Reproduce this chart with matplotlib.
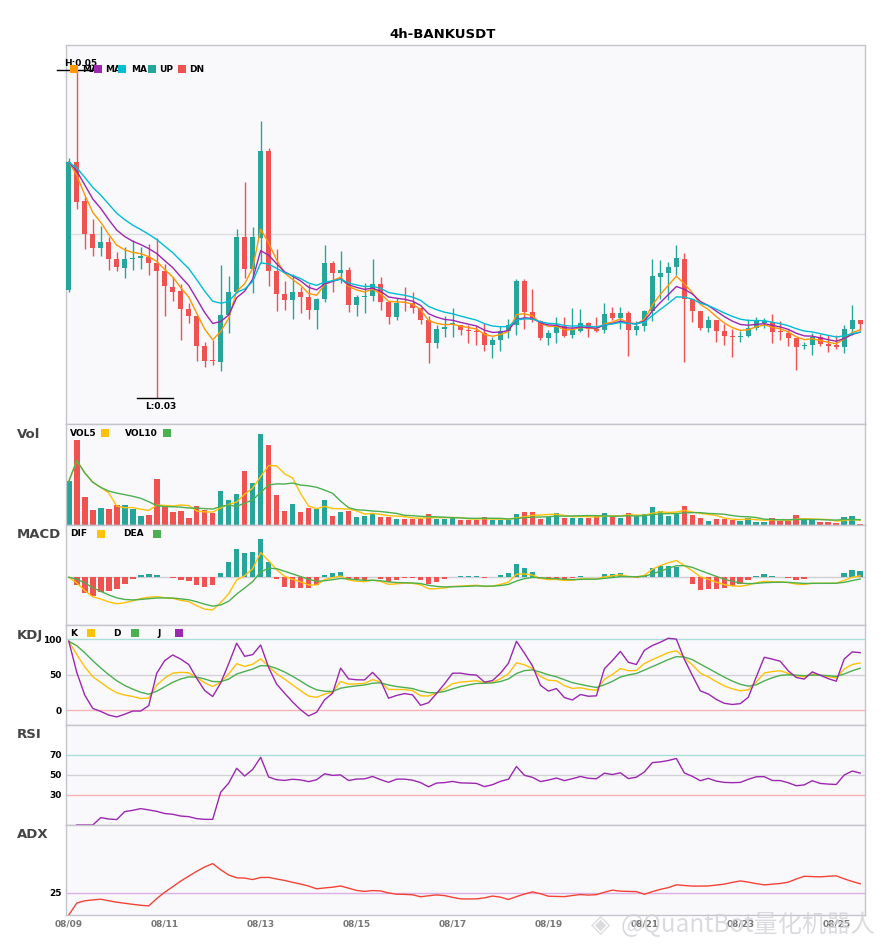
import numpy as np
import pandas as pd
import matplotlib
matplotlib.use('Agg')
import matplotlib.pyplot as plt
from matplotlib.patches import Rectangle
from matplotlib.transforms import Bbox, TransformedBbox

# 4h candles, prices in 1e-4 USDT
opens = [365.9, 443.8, 420.2, 400.0, 391.7, 395.2, 384.8, 379.5, 385.0, 385.6,
         386.0, 382.2, 377.3, 367.7, 365.3, 354.3, 350.0, 331.7, 322.8, 322.1,
         350.6, 364.7, 398.2, 378.9, 397.8, 450.7, 377.5, 363.4, 360.0, 364.7,
         361.6, 353.9, 360.4, 382.4, 376.3, 378.1, 356.9, 361.9, 362.2, 369.5,
         358.7, 349.4, 358.7, 358.1, 355.1, 347.6, 333.7, 342.3, 344.3, 344.5,
         341.7, 341.1, 339.5, 332.3, 335.4, 341.1, 344.5, 371.4, 352.5, 347.2,
         336.6, 339.7, 343.9, 338.4, 340.9, 345.8, 342.1, 341.5, 351.9, 348.8,
         351.9, 341.5, 343.9, 353.1, 373.8, 376.3, 380.1, 384.8, 360.6, 353.1,
         342.9, 347.6, 341.1, 337.8, 337.4, 337.8, 342.7, 345.8, 346.4, 340.9,
         339.7, 336.6, 331.5, 332.3, 337.2, 332.9, 332.5, 331.3, 342.1, 347.6]
highs = [446.2, 500.1, 422.4, 409.2, 404.9, 398.4, 388.9, 392.3, 396.4, 392.3,
         393.8, 397.6, 381.7, 374.0, 369.4, 357.8, 350.5, 334.2, 335.4, 381.1,
         374.4, 403.1, 431.9, 404.3, 469.0, 452.7, 390.9, 371.4, 375.6, 367.9,
         369.7, 361.0, 393.3, 383.6, 389.7, 380.1, 362.8, 370.2, 384.8, 373.8,
         358.7, 361.2, 367.7, 364.7, 355.1, 350.2, 344.5, 350.2, 354.9, 344.5,
         344.5, 343.9, 345.6, 337.2, 343.9, 348.2, 372.6, 372.6, 366.5, 347.6,
         341.5, 349.4, 349.4, 354.9, 354.3, 346.4, 349.4, 357.9, 355.5, 355.5,
         353.1, 347.0, 353.7, 384.8, 384.2, 383.0, 393.3, 388.5, 360.6, 353.1,
         350.0, 347.6, 345.1, 342.1, 340.9, 348.0, 349.4, 348.8, 351.2, 347.0,
         341.5, 336.6, 334.2, 339.7, 339.0, 338.4, 338.4, 344.5, 356.7, 347.6]
lows = [364.8, 415.3, 391.1, 386.8, 386.6, 378.0, 377.6, 373.4, 378.0, 378.5,
        375.0, 300.0, 350.0, 359.4, 335.4, 345.6, 322.8, 319.1, 320.1, 316.7,
        339.8, 364.2, 373.0, 364.2, 382.4, 368.5, 353.1, 353.7, 348.2, 352.0,
        348.2, 342.1, 358.4, 364.7, 370.0, 352.5, 350.0, 352.0, 359.2, 353.7,
        345.3, 347.6, 353.1, 351.9, 345.3, 321.5, 330.7, 337.4, 337.4, 338.6,
        333.6, 332.3, 328.9, 324.6, 328.9, 336.6, 338.4, 342.1, 346.2, 335.4,
        332.3, 333.6, 337.2, 336.6, 340.3, 337.2, 340.3, 339.7, 347.6, 342.1,
        325.6, 338.4, 340.9, 347.0, 360.4, 359.8, 375.0, 322.1, 346.5, 341.5,
        340.4, 334.3, 332.3, 325.2, 334.3, 337.4, 341.5, 342.7, 333.7, 335.4,
        331.7, 317.3, 330.1, 326.4, 331.9, 328.2, 330.1, 327.6, 338.4, 341.5]
closes = [443.8, 419.7, 400.2, 391.7, 395.2, 384.9, 380.1, 384.8, 385.6, 386.6,
          382.5, 377.7, 368.5, 364.8, 354.3, 350.2, 331.9, 322.8, 322.4, 350.6,
          364.7, 398.2, 378.9, 398.2, 450.7, 377.5, 363.6, 360.0, 364.7, 361.6,
          353.9, 360.4, 382.4, 376.3, 378.1, 356.9, 361.6, 362.2, 369.5, 358.7,
          349.4, 358.1, 358.1, 354.9, 347.6, 333.7, 342.1, 343.1, 345.6, 341.7,
          341.1, 340.3, 332.3, 335.4, 340.9, 344.5, 371.4, 352.5, 347.6, 336.6,
          339.7, 343.9, 337.8, 341.5, 345.8, 342.1, 341.1, 351.2, 348.8, 351.9,
          341.5, 343.9, 353.1, 374.4, 376.3, 379.9, 385.4, 360.6, 353.3, 342.9,
          347.6, 341.1, 338.0, 337.4, 337.8, 342.7, 346.8, 347.0, 340.4, 340.3,
          336.6, 331.3, 332.3, 337.2, 332.9, 331.9, 331.3, 342.1, 347.6, 345.1]
volumes = [435, 845, 275, 145, 170, 155, 195, 195, 155, 85,
           95, 455, 185, 125, 135, 65, 185, 145, 115, 335,
           245, 305, 535, 415, 905, 795, 295, 135, 205, 133,
           173, 163, 253, 93, 133, 143, 83, 93, 123, 83,
           83, 63, 63, 63, 63, 113, 63, 63, 73, 53,
           53, 53, 83, 53, 53, 53, 113, 133, 133, 63,
           83, 123, 73, 73, 73, 73, 103, 123, 83, 73,
           123, 93, 113, 183, 143, 93, 113, 193, 103, 73,
           43, 63, 63, 53, 43, 73, 33, 33, 73, 43,
           43, 103, 53, 53, 33, 33, 23, 83, 93, 7]
date_labels = ['08/09', '08/11', '08/13', '08/15', '08/17', '08/19', '08/21', '08/23', '08/25']
label_step = 12  # 2 days of 4h candles

UP = '#26a69a'
DN = '#ef5350'
C_MA1, C_MA2, C_MA3 = '#ff9800', '#9c27b0', '#00bcd4'
C_YEL, C_GRN = '#ffc107', '#4caf50'
BG = '#f9f9fc'
SPINE = '#c4c4cc'

df = pd.DataFrame({'o': opens, 'h': highs, 'l': lows, 'c': closes}) / 10000.0
df['v'] = volumes
x = np.arange(len(df))
up = df['c'] >= df['o']
colors = np.where(up, UP, DN)

# indicators
ma1 = df['c'].ewm(span=5, adjust=False).mean()
ma2 = df['c'].ewm(span=8, adjust=False).mean()
ma3 = df['c'].ewm(span=13, adjust=False).mean()
vol5 = df['v'].rolling(5, min_periods=1).mean()
vol10 = df['v'].rolling(10, min_periods=1).mean()

dif = df['c'].ewm(span=6, adjust=False).mean() - df['c'].ewm(span=13, adjust=False).mean()
dea = dif.ewm(span=5, adjust=False).mean()
hist = 2 * (dif - dea)

low9 = df['l'].rolling(9, min_periods=1).min()
high9 = df['h'].rolling(9, min_periods=1).max()
rsv = (df['c'] - low9) / (high9 - low9) * 100
k = rsv.ewm(com=2, adjust=False).mean()
d = k.ewm(com=2, adjust=False).mean()
j = 3 * k - 2 * d

delta = df['c'].diff()
gain = delta.clip(lower=0).ewm(alpha=1 / 14, adjust=True).mean()
loss = (-delta.clip(upper=0)).ewm(alpha=1 / 14, adjust=True).mean()
rsi = 100 * gain / (gain + loss)

upmove = df['h'].diff()
downmove = -df['l'].diff()
pdm = pd.Series(np.where((upmove > downmove) & (upmove > 0), upmove, 0.0))
mdm = pd.Series(np.where((downmove > upmove) & (downmove > 0), downmove, 0.0))
prev_c = df['c'].shift()
tr = pd.concat([df['h'] - df['l'], (df['h'] - prev_c).abs(), (df['l'] - prev_c).abs()], axis=1).max(axis=1)
tr_s = tr.ewm(span=14, adjust=False).mean()
pdi = 100 * pdm.ewm(span=14, adjust=False).mean() / tr_s
mdi = 100 * mdm.ewm(span=14, adjust=False).mean() / tr_s
dx = (100 * (pdi - mdi).abs() / (pdi + mdi)).fillna(0)
adx = dx.ewm(span=14, adjust=False).mean()

# layout in pixels
W, H = 885, 950
def fx(px):
    return px / W
def fy(py):
    return 1 - py / H

fig = plt.figure(figsize=(W / 100, H / 100), dpi=100)
fig.patch.set_facecolor('white')
L_PX, R_PX = 66, 865
bounds = [(45, 424), (424, 525), (525, 625), (625, 725), (725, 825), (825, 915)]
axes = []
for top, bot in bounds:
    a = fig.add_axes([fx(L_PX), fy(bot), fx(R_PX) - fx(L_PX), (bot - top) / H])
    a.set_facecolor(BG)
    a.set_xlim(-0.35, len(df) - 0.4)
    for s in a.spines.values():
        s.set_color(SPINE)
        s.set_linewidth(1)
    a.tick_params(axis='both', length=0, labelsize=6.5, pad=3)
    a.set_xticks([])
    a.set_yticks([])
    axes.append(a)
ax, axv, axm, axk, axr, axa = axes

# main candles
body_lo = np.minimum(df['o'], df['c'])
body_h = np.maximum((df['c'] - df['o']).abs(), (df['h'].max() - df['l'].min()) * 0.003)
ax.vlines(x, df['l'], df['h'], colors=colors, linewidth=1.0, zorder=2)
ax.bar(x, body_h, bottom=body_lo, width=0.66, color=colors, zorder=3)
ax.plot(x, ma1, color=C_MA1, lw=1.0, zorder=4)
ax.plot(x, ma2, color=C_MA2, lw=1.0, zorder=4)
ax.plot(x, ma3, color=C_MA3, lw=1.0, zorder=4)
pmin, pmax = df['l'].min(), df['h'].max()
rng = pmax - pmin
ax.set_ylim(pmin - 0.079 * rng, pmax + 0.076 * rng)
ax.axhline(round((pmin + pmax) / 2, 2), color='#dcdcdf', lw=1, zorder=1)

ih, il = int(df['h'].idxmax()), int(df['l'].idxmin())
ax.plot([ih - 2.5, ih + 1.8], [pmax, pmax], color='black', lw=1, clip_on=False, zorder=6)
ax.text(ih + 0.5, pmax + 0.005 * rng, 'H:%.2f' % pmax, ha='center', va='bottom',
        fontsize=6.5, fontweight='bold', zorder=7, clip_on=False)
ax.plot([il - 2.5, il + 2.0], [pmin, pmin], color='black', lw=1, clip_on=False, zorder=6)
ax.text(il + 0.5, pmin - 0.012 * rng, 'L:%.2f' % pmin, ha='center', va='top',
        fontsize=6.5, fontweight='bold', zorder=7)

# volume
axv.bar(x, df['v'], width=0.7, color=colors, zorder=2)
axv.plot(x, vol5, color=C_YEL, lw=1.0, zorder=3)
axv.plot(x, vol10, color=C_GRN, lw=1.0, zorder=3)
axv.set_ylim(0, df['v'].max() * 1.11)

# macd
axm.axhline(0, color='#d0d0d4', lw=1, zorder=1)
axm.bar(x, hist, width=0.7, color=np.where(hist >= 0, UP, DN), zorder=2)
axm.plot(x, dif, color=C_YEL, lw=1.0, zorder=3)
axm.plot(x, dea, color=C_GRN, lw=1.0, zorder=3)
lo = min(dif.min(), dea.min(), hist.min())
hi = max(dif.max(), dea.max(), hist.max())
axm.set_ylim(lo - 0.21 * (hi - lo), hi + 0.19 * (hi - lo))

# kdj
for lvl, col in [(100, '#a9ddd7'), (50, '#d2d2d6'), (0, '#f6b3b3')]:
    axk.axhline(lvl, color=col, lw=1, zorder=1)
axk.plot(x, k, color=C_YEL, lw=1.0, zorder=3)
axk.plot(x, d, color=C_GRN, lw=1.0, zorder=3)
axk.plot(x, j, color=C_MA2, lw=1.0, zorder=3)
axk.set_ylim(-21, 120)
axk.set_yticks([0, 50, 100])

# rsi
for lvl, col in [(70, '#a9ddd7'), (50, '#d2d2d6'), (30, '#f6b3b3')]:
    axr.axhline(lvl, color=col, lw=1, zorder=1)
axr.plot(x, rsi, color=C_MA2, lw=1.0, zorder=3)
axr.set_ylim(0, 100)
axr.set_yticks([30, 50, 70])

# adx
axa.axhline(25, color='#dcb0e6', lw=1, zorder=1)
axa.plot(x, adx, color='#f44336', lw=1.0, zorder=3)
axa.set_ylim(0, 100)
axa.set_yticks([25])
axa.set_xticks(np.arange(len(date_labels)) * label_step)
axa.set_xticklabels(date_labels, color='#777777', fontweight='bold')

for a in (axk, axr, axa):
    for t in a.get_yticklabels():
        t.set_fontweight('bold')

# titles and panel names
fig.text(fx(443), fy(34), '4h-BANKUSDT', ha='center', va='center', fontsize=9.5, fontweight='bold')
for name, py in [('Vol', 434), ('MACD', 535), ('KDJ', 636), ('RSI', 735), ('ADX', 835)]:
    fig.text(fx(17), fy(py), name, ha='left', va='center', fontsize=9.5,
             fontweight='bold', color='#444444')

# legends: (label, text x, square x, colour, clip x) in pixels
def legend(items, py):
    for label, tx, sx, col, cx in items:
        t = fig.text(fx(tx), fy(py), label, ha='left', va='center', fontsize=6.5,
                     fontweight='bold', zorder=20)
        if cx:
            box = Bbox([[fx(tx) - 0.01, fy(py + 8)], [fx(cx), fy(py - 8)]])
            t.set_clip_box(TransformedBbox(box, fig.transFigure))
            t.set_clip_on(True)
        fig.patches.append(Rectangle((fx(sx), fy(py + 4)), 8 / W, 8 / H, transform=fig.transFigure,
                                     facecolor=col, edgecolor='none', zorder=21))

legend([('MA5', 82, 70, C_MA1, 94), ('MA10', 105, 94, C_MA2, 118), ('MA20', 131, 118, C_MA3, 147),
        ('UP', 159, 148, UP, None), ('DN', 189, 178, DN, None)], 69)
legend([('VOL5', 70, 101, C_YEL, None), ('VOL10', 125, 163, C_GRN, None)], 433)
legend([('DIF', 70, 97, C_YEL, None), ('DEA', 123, 153, C_GRN, None)], 534)
legend([('K', 70, 87, C_YEL, None), ('D', 113, 131, C_GRN, None), ('J', 157, 175, C_MA2, None)], 633)

# watermark
fig.text(fx(591), fy(925), '◈', ha='left', va='center', fontsize=18,
         color='#d4d4d8', alpha=0.8, zorder=30)
fig.text(fx(621), fy(925), '@QuantBot量化机器人', ha='left', va='center', fontsize=17.5,
         family=['Noto Sans CJK SC', 'DejaVu Sans'], color='#d0d0d5', alpha=0.75, zorder=30)

fig.savefig('out.png', dpi=100)
